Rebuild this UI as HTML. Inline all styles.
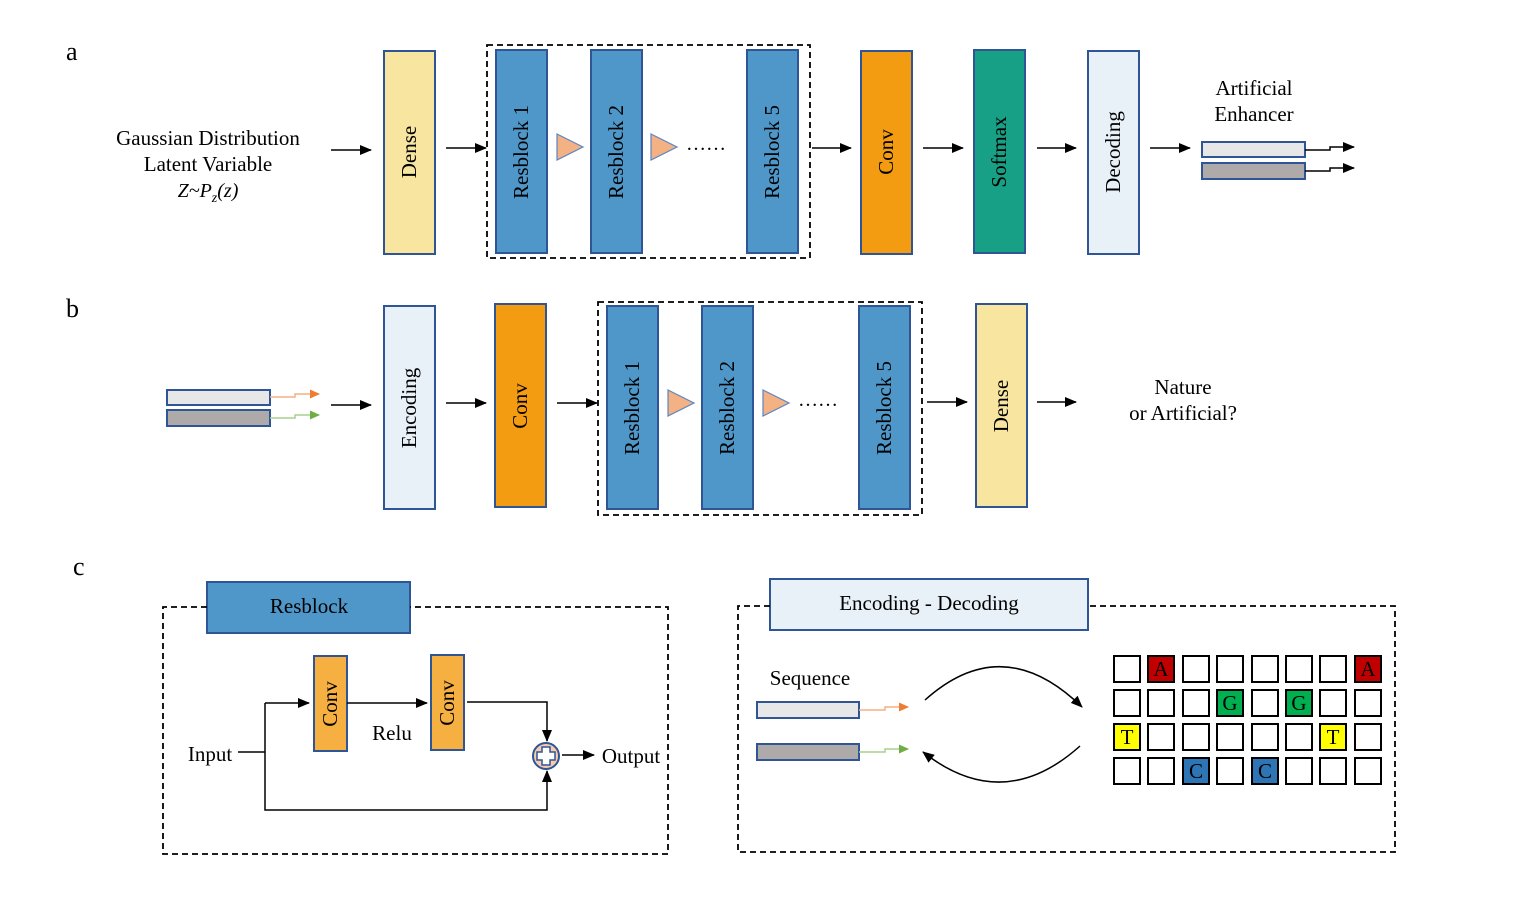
<!DOCTYPE html>
<html><head><meta charset="utf-8"><style>
html,body{margin:0;padding:0;background:#fff}
svg{display:block}
text{font-family:"Liberation Serif",serif;fill:#000}
</style></head><body>
<svg width="1533" height="911" viewBox="0 0 1533 911" xmlns="http://www.w3.org/2000/svg">
<defs>
<marker id="ah" markerWidth="12" markerHeight="10" refX="11" refY="5" orient="auto" markerUnits="userSpaceOnUse"><path d="M0,0 L12,5 L0,10 z" fill="#000"/></marker>
<marker id="ao" markerWidth="10" markerHeight="9" refX="9" refY="4.5" orient="auto" markerUnits="userSpaceOnUse"><path d="M0,0 L10,4.5 L0,9 z" fill="#ed7d31"/></marker>
<marker id="ag" markerWidth="10" markerHeight="9" refX="9" refY="4.5" orient="auto" markerUnits="userSpaceOnUse"><path d="M0,0 L10,4.5 L0,9 z" fill="#70ad47"/></marker>
</defs>
<g stroke="#2f5597" stroke-width="2">
<rect x="384" y="51" width="51" height="203" fill="#f8e6a0"/>
<rect x="496" y="50" width="51" height="203" fill="#5097c9"/>
<rect x="591" y="50" width="51" height="203" fill="#5097c9"/>
<rect x="747" y="50" width="51" height="203" fill="#5097c9"/>
<rect x="861" y="51" width="51" height="203" fill="#f39c12"/>
<rect x="974" y="50" width="51" height="203" fill="#17a085"/>
<rect x="1088" y="51" width="51" height="203" fill="#e9f1f8"/>
<rect x="1202" y="142" width="103" height="15" fill="#e7e7e7"/>
<rect x="1202" y="163" width="103" height="16" fill="#aeaaaa"/>
<rect x="167" y="390" width="103" height="15" fill="#e7e7e7"/>
<rect x="167" y="410" width="103" height="16" fill="#aeaaaa"/>
<rect x="384" y="306" width="51" height="203" fill="#e9f1f8"/>
<rect x="495" y="304" width="51" height="203" fill="#f39c12"/>
<rect x="607" y="306" width="51" height="203" fill="#5097c9"/>
<rect x="702" y="306" width="51" height="203" fill="#5097c9"/>
<rect x="859" y="306" width="51" height="203" fill="#5097c9"/>
<rect x="976" y="304" width="51" height="203" fill="#f8e6a0"/>
<rect x="207" y="582" width="203" height="51" fill="#5097c9"/>
<rect x="314" y="656" width="33" height="95" fill="#f5b041"/>
<rect x="431" y="655" width="33" height="95" fill="#f5b041"/>
<rect x="770" y="579" width="318" height="51" fill="#e9f1f8"/>
<rect x="757" y="702" width="102" height="16" fill="#e7e7e7"/>
<rect x="757" y="744" width="102" height="16" fill="#aeaaaa"/>
</g>
<g fill="none" stroke="#000" stroke-width="1.8" stroke-dasharray="6,4">
<rect x="487" y="45" width="323" height="213"/>
<rect x="598" y="302" width="324" height="213"/>
<path d="M207,607 H163 V854 H668 V607 H410"/>
<path d="M770,606 H738 V852 H1395 V606 H1088"/>
</g>
<g fill="#f4b183" stroke="#5b86c5" stroke-width="1.2">
<path d="M557,134 L583,147 L557,160 z"/>
<path d="M651,134 L677,147 L651,160 z"/>
<path d="M668,390 L694,403 L668,416 z"/>
<path d="M763,390 L789,403 L763,416 z"/>
</g>
<text x="706" y="150" font-size="20" text-anchor="middle">……</text>
<text x="818" y="406" font-size="20" text-anchor="middle">……</text>
<g stroke="#000" stroke-width="1.5" fill="none" marker-end="url(#ah)">
<line x1="331" y1="150" x2="371" y2="150"/>
<line x1="446" y1="148" x2="486" y2="148"/>
<line x1="812" y1="148" x2="851" y2="148"/>
<line x1="923" y1="148" x2="963" y2="148"/>
<line x1="1037" y1="148" x2="1076" y2="148"/>
<line x1="1150" y1="148" x2="1190" y2="148"/>
<path d="M1305,150 H1330 V147 H1354"/>
<path d="M1305,171 H1330 V168 H1354"/>
<line x1="331" y1="405" x2="371" y2="405"/>
<line x1="446" y1="403" x2="486" y2="403"/>
<line x1="557" y1="403" x2="597" y2="403"/>
<line x1="927" y1="402" x2="967" y2="402"/>
<line x1="1037" y1="402" x2="1076" y2="402"/>
<path d="M265,703 H309"/>
<path d="M347,703 H427"/>
<path d="M467,702 H547 V741"/>
<path d="M265,752 V810 H547 V771"/>
<line x1="562" y1="755" x2="594" y2="755"/>
<path d="M925,700 Q1003,630 1082,707"/>
<path d="M1080,746 Q1003,815 923,752"/>
</g>
<line x1="238" y1="752" x2="265" y2="752" stroke="#000" stroke-width="1.5"/>
<line x1="265" y1="703" x2="265" y2="752" stroke="#000" stroke-width="1.5"/>
<g fill="none" stroke-width="1.5">
<path d="M270,397 H295 V394 H319" stroke="#f4b183" marker-end="url(#ao)"/>
<path d="M270,418 H295 V415 H319" stroke="#a9d18e" marker-end="url(#ag)"/>
<path d="M859,710 H885 V707 H908" stroke="#f4b183" marker-end="url(#ao)"/>
<path d="M859,752 H885 V749 H908" stroke="#a9d18e" marker-end="url(#ag)"/>
</g>
<circle cx="546" cy="756" r="13" fill="#f8cbad" stroke="#2f5597" stroke-width="2"/>
<path d="M542,747 h8 v5 h5 v8 h-5 v5 h-8 v-5 h-5 v-8 h5 z" fill="#fff" stroke="#2f5597" stroke-width="1.5"/>
<g stroke="#000" stroke-width="2" fill="#fff">
<rect x="1114" y="656" width="26" height="26"/><rect x="1148" y="656" width="26" height="26" fill="#c00000"/><rect x="1183" y="656" width="26" height="26"/><rect x="1217" y="656" width="26" height="26"/><rect x="1252" y="656" width="26" height="26"/><rect x="1286" y="656" width="26" height="26"/><rect x="1320" y="656" width="26" height="26"/><rect x="1355" y="656" width="26" height="26" fill="#c00000"/>
<rect x="1114" y="690" width="26" height="26"/><rect x="1148" y="690" width="26" height="26"/><rect x="1183" y="690" width="26" height="26"/><rect x="1217" y="690" width="26" height="26" fill="#00b050"/><rect x="1252" y="690" width="26" height="26"/><rect x="1286" y="690" width="26" height="26" fill="#00b050"/><rect x="1320" y="690" width="26" height="26"/><rect x="1355" y="690" width="26" height="26"/>
<rect x="1114" y="724" width="26" height="26" fill="#ffff00"/><rect x="1148" y="724" width="26" height="26"/><rect x="1183" y="724" width="26" height="26"/><rect x="1217" y="724" width="26" height="26"/><rect x="1252" y="724" width="26" height="26"/><rect x="1286" y="724" width="26" height="26"/><rect x="1320" y="724" width="26" height="26" fill="#ffff00"/><rect x="1355" y="724" width="26" height="26"/>
<rect x="1114" y="758" width="26" height="26"/><rect x="1148" y="758" width="26" height="26"/><rect x="1183" y="758" width="26" height="26" fill="#2e75b6"/><rect x="1217" y="758" width="26" height="26"/><rect x="1252" y="758" width="26" height="26" fill="#2e75b6"/><rect x="1286" y="758" width="26" height="26"/><rect x="1320" y="758" width="26" height="26"/><rect x="1355" y="758" width="26" height="26"/>
</g>
<g font-size="21" text-anchor="middle">
<text x="1161" y="676">A</text><text x="1368" y="676">A</text>
<text x="1230" y="710">G</text><text x="1299" y="710">G</text>
<text x="1127" y="744">T</text><text x="1333" y="744">T</text>
<text x="1196" y="778">C</text><text x="1265" y="778">C</text>
</g>
<g font-size="26"><text x="66" y="60">a</text><text x="66" y="317">b</text><text x="73" y="575">c</text></g>
<g font-size="21" text-anchor="middle">
<text x="208" y="145">Gaussian Distribution</text>
<text x="208" y="171">Latent Variable</text>
<text x="208" y="197" font-family="DejaVu Serif,serif" font-style="italic" font-size="20">Z~P<tspan font-size="14" dy="5">z</tspan><tspan dy="-5">(z)</tspan></text>
<text x="1254" y="95">Artificial</text>
<text x="1254" y="121">Enhancer</text>
<text x="1183" y="394">Nature</text>
<text x="1183" y="420">or Artificial?</text>
<text x="309" y="613">Resblock</text>
<text x="929" y="610">Encoding - Decoding</text>
<text x="810" y="685">Sequence</text>
<text x="392" y="740">Relu</text>
<text x="210" y="761">Input</text>
<text x="631" y="763">Output</text>
</g>
<g font-size="21" text-anchor="middle">
<text transform="translate(416,152) rotate(-90)">Dense</text>
<text transform="translate(528,152) rotate(-90)">Resblock 1</text>
<text transform="translate(623,152) rotate(-90)">Resblock 2</text>
<text transform="translate(779,152) rotate(-90)">Resblock 5</text>
<text transform="translate(893,152) rotate(-90)">Conv</text>
<text transform="translate(1006,152) rotate(-90)">Softmax</text>
<text transform="translate(1120,152) rotate(-90)">Decoding</text>
<text transform="translate(416,408) rotate(-90)">Encoding</text>
<text transform="translate(527,406) rotate(-90)">Conv</text>
<text transform="translate(639,408) rotate(-90)">Resblock 1</text>
<text transform="translate(734,408) rotate(-90)">Resblock 2</text>
<text transform="translate(891,408) rotate(-90)">Resblock 5</text>
<text transform="translate(1008,406) rotate(-90)">Dense</text>
<text transform="translate(337,704) rotate(-90)">Conv</text>
<text transform="translate(454,703) rotate(-90)">Conv</text>
</g>
</svg>
</body></html>
